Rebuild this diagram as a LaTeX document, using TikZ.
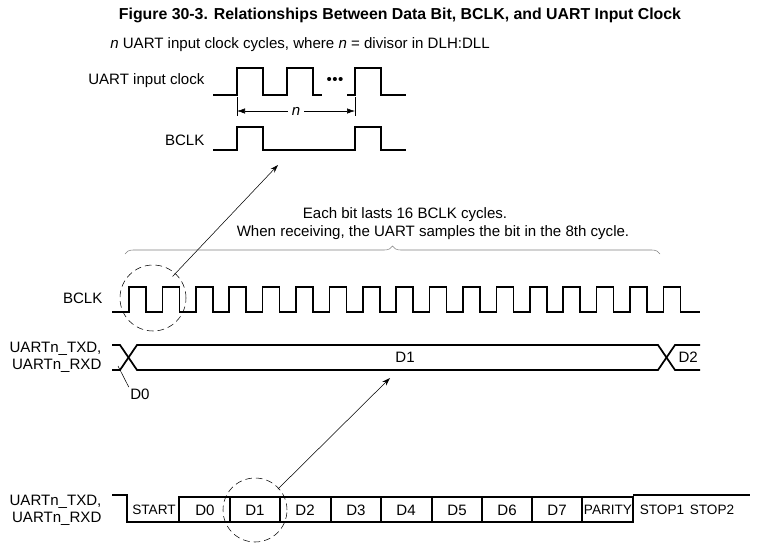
\documentclass[tikz,border=0pt]{standalone}
\usepackage{fontspec}
\setmainfont{Liberation Sans}
\usetikzlibrary{decorations.pathreplacing,arrows.meta}
\begin{document}
\begin{tikzpicture}[x=0.75pt,y=-0.75pt,
  txt/.style={font=\fontsize{11.3}{13}\selectfont,inner sep=1pt},
  sml/.style={font=\fontsize{10.2}{12}\selectfont,inner sep=1pt},
  lbl/.style={txt,anchor=east,align=right},
  wave/.style={line width=1.3pt,line join=miter},
  dcirc/.style={dash pattern=on 5pt off 3pt,thin},
  ptr/.style={thin,-{Stealth[length=6pt,width=4pt]}}]
\useasboundingbox (0,0) rectangle (765,551);
\node[txt,font=\bfseries\fontsize{11.9}{14}\selectfont] (title) at (400,15) {Figure 30-3. Relationships Between Data Bit, BCLK, and UART Input Clock};
\node[txt] (sub) at (300,45) {\textit{n} UART input clock cycles, where \textit{n} = divisor in DLH:DLL};
% top clocks
\node[lbl] (uclk) at (206,81) {UART input clock};
\draw[wave] (213,95) -- (237,95) -- (237,68) -- (263,68) -- (263,95) -- (287,95) -- (287,68) -- (313,68) -- (313,95) -- (322,95);
\node[txt] (dots) at (335,81) {\textbullet\hspace{0.3pt}\textbullet\hspace{0.3pt}\textbullet};
\draw[wave] (347,95) -- (355,95) -- (355,68) -- (381,68) -- (381,95) -- (406,95);
\coordinate (na) at (237,111); \coordinate (nb) at (355,111);
\draw[thin] (237,97) -- (237,116) (355,97) -- (355,116);
\node[txt,fill=white,inner sep=3pt] (n) at (296,111) {\textit{n}};
\draw[thin,-{Latex[length=6pt,width=4pt]}] (n) -- (na);
\draw[thin,-{Latex[length=6pt,width=4pt]}] (n) -- (nb);
\node[lbl] (bclkt) at (206,140) {BCLK};
\draw[wave] (213,150) -- (237,150) -- (237,127) -- (263,127) -- (263,150) -- (355,150) -- (355,127) -- (381,127) -- (381,150) -- (406,150);
% text and brace
\node[txt] (note1) at (405,215) {Each bit lasts 16 BCLK cycles.};
\node[txt] (note2) at (433,233) {When receiving, the UART samples the bit in the 8th cycle.};
\draw[gray,thin,decorate,decoration={brace,amplitude=6pt}] (125,254) -- (660,254);
% BCLK row
\node[lbl] (bclk) at (104,298) {BCLK};
\draw[wave] (112,312) foreach \k in {0,...,16}{ -- ({129+33.4*\k},312) -- ++(0,-25) -- ++(17,0) -- ++(0,25)} -- (700,312);
\node[draw,dcirc,circle,minimum size=66pt*0.75] (c1) at (153,298) {};
\coordinate (t1) at (278,165);
\draw[ptr] (c1.north east) ++(-4,2) coordinate (s1) (s1) -- (t1);
% data bus
\node[lbl] (bus1) at (103,357) {UARTn\_TXD,\\UARTn\_RXD};
\draw[wave] (112,345) -- (120,345) -- (137,370) -- (658,370) -- (675,345) -- (700,345);
\draw[wave] (112,370) -- (120,370) -- (137,345) -- (658,345) -- (675,370) -- (700,370);
\node[txt] (d1big) at (405,357) {D1};
\node[txt,anchor=west] (d2big) at (677,357) {D2};
\node[txt] (d0big) at (140,394) {D0};
\draw[thin] (118,366) -- (d0big.north west);
% bottom frame
\node[lbl] (bus2) at (103,510) {UARTn\_TXD,\\UARTn\_RXD};
\draw[wave] (112,495) -- (127,495) -- (127,522) -- (179,522);
\draw[wave] (179,497) rectangle (633,522);
\draw[wave] (633,495) -- (750,495);
\foreach \xx in {230,280,331,381,432,482,532,582} \draw[wave] (\xx,497) -- (\xx,522);
\node[sml] (st) at (154,510) {START};
\foreach \nm/\xx in {D0/205,D1/255,D2/305,D3/356,D4/406,D5/457,D6/507,D7/557} \node[txt] (b\nm) at (\xx,510) {\nm};
\node[sml] (par) at (608,510) {PARITY};
\node[sml] (s1l) at (662,510) {STOP1};
\node[sml] (s2l) at (712,510) {STOP2};
\node[draw,dcirc,circle,minimum size=64pt*0.75] (c2) at (255,510) {};
\coordinate (t2) at (390,378);
\draw[ptr] (c2.north east) ++(0,2) coordinate (s2) (s2) -- (t2);
\end{tikzpicture}
\end{document}
